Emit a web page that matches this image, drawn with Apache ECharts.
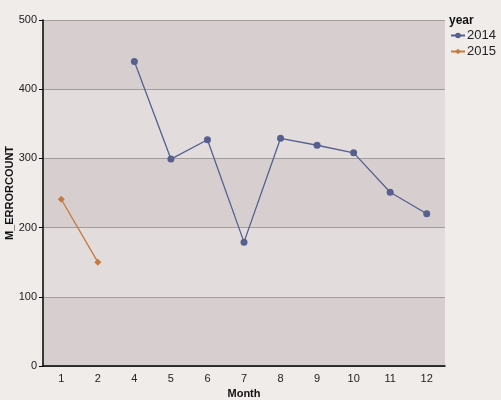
<!DOCTYPE html>
<html><head><meta charset="utf-8">
<script src="https://cdn.jsdelivr.net/npm/echarts@6/dist/echarts.min.js"></script>
<style>html,body{margin:0;padding:0;background:#efecea;}#c{width:501px;height:400px;}</style>
</head><body><div id="c"></div>
<script>
const months = ['1','2','4','5','6','7','8','9','10','11','12'];
const y2014 = [null,null,440,299,327,179,329,319,308,251,220];
const y2015 = [241,150,null,null,null,null,null,null,null,null,null];
const yTicks = [0,100,200,300,400,500];

const chart = echarts.init(document.getElementById('c'));
chart.setOption({
  backgroundColor:'#efecea',
  animation:false,
  textStyle:{fontFamily:'Liberation Sans, Arial, sans-serif'},
  grid:{left:43,right:56,top:20,bottom:34,containLabel:false,outerBoundsMode:'none'},
  title:{text:'year',left:449,top:15,padding:0,textStyle:{fontSize:12,fontWeight:'bold',color:'#111',fontFamily:'Liberation Sans, Arial, sans-serif'}},
  legend:{orient:'vertical',left:450,top:29,padding:0,itemGap:3,itemWidth:14,itemHeight:7,
    textStyle:{fontSize:13,color:'#222',padding:[0,0,0,-3]},
    data:['2014','2015']},
  xAxis:{type:'category',data:months,boundaryGap:true,
    name:'Month',nameLocation:'middle',nameGap:22,
    nameTextStyle:{fontWeight:'bold',fontSize:11,color:'#111'},
    axisLine:{lineStyle:{color:'#000',width:1.5}},
    axisTick:{alignWithLabel:true,length:4,lineStyle:{color:'#000'}},
    axisLabel:{fontSize:11,color:'#222',margin:7}},
  yAxis:{type:'value',min:yTicks[0],max:yTicks[yTicks.length-1],interval:100,
    name:'M_ERRORCOUNT',nameLocation:'middle',nameGap:28,nameMoveOverlap:false,
    nameTextStyle:{fontWeight:'bold',fontSize:11,color:'#111'},
    axisLine:{show:true,lineStyle:{color:'#000',width:1.5}},
    axisTick:{show:true,length:4,lineStyle:{color:'#000'}},
    axisLabel:{fontSize:11,color:'#222',margin:6},
    splitLine:{lineStyle:{color:'#a39c9c',width:1}},
    splitArea:{show:true,areaStyle:{color:['#d7cfcf','#e3dcdc']}}},
  series:[
    {name:'2014',type:'line',data:y2014,connectNulls:false,symbol:'circle',symbolSize:7,
     color:'#56608f',lineStyle:{width:1.3,color:'#56608f'},itemStyle:{color:'#56608f'}},
    {name:'2015',type:'line',data:y2015,symbol:'diamond',symbolSize:7,
     color:'#c57a3e',lineStyle:{width:1.3,color:'#c57a3e'},itemStyle:{color:'#c57a3e'}}
  ]
});
</script></body></html>
